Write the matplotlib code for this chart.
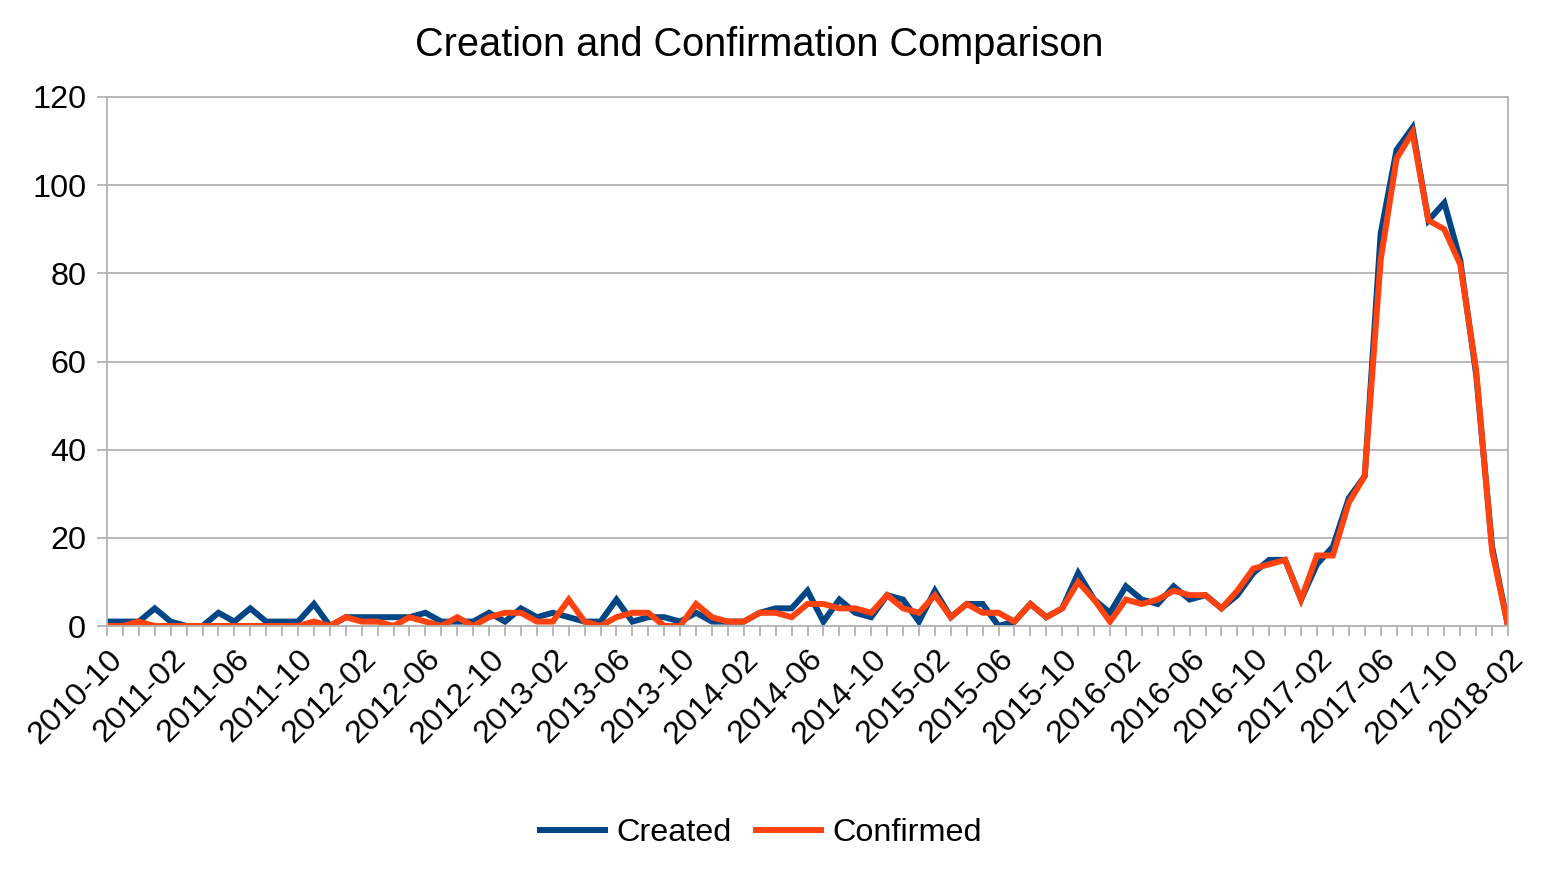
import matplotlib

matplotlib.use("Agg")
import matplotlib.pyplot as plt
import numpy as np
import pandas as pd

plt.rcParams["font.family"] = ["Liberation Sans", "DejaVu Sans"]

# monthly counts, 2010-10 .. 2018-02
months = [str(p) for p in pd.period_range("2010-10", "2018-02", freq="M")]

created = [
    1, 1, 1, 4, 1, 0, 0, 3, 1, 4, 1, 1, 1, 5, 0, 2, 2, 2, 2, 2, 3, 1,
    1, 1, 3, 1, 4, 2, 3, 2, 1, 1, 6, 1, 2, 2, 1, 3, 1, 1, 1, 3, 4,
    4, 8, 1, 6, 3, 2, 7, 6, 1, 8, 2, 5, 5, 0, 1, 5,
    2, 4, 12, 6, 3, 9, 6, 5, 9, 6, 7, 4, 7, 12, 15, 15, 6, 14, 18, 29, 34,
    89, 108, 113, 92, 96, 83, 57, 18, 0,
]
confirmed = [
    0, 0, 1, 0, 0, 0, 0, 0, 0, 0, 0, 0, 0, 1, 0, 2, 1, 1, 0, 2, 1, 0,
    2, 0, 2, 3, 3, 1, 1, 6, 1, 0, 2, 3, 3, 0, 0, 5, 2, 1, 1, 3, 3,
    2, 5, 5, 4, 4, 3, 7, 4, 3, 7, 2, 5, 3, 3, 1, 5,
    2, 4, 10, 6, 1, 6, 5, 6, 8, 7, 7, 4, 8, 13, 14, 15, 6, 16, 16, 28, 34,
    83, 106, 112, 92, 90, 82, 58, 17, 0,
]

BLUE = "#004586"
ORANGE = "#ff420e"
GRID = "#b3b3b3"
FS = 23.3

fig = plt.figure(figsize=(15.44, 8.76), dpi=100)
ax = fig.add_axes([107 / 1544, 1 - 626 / 876, (1508 - 107) / 1544, (626 - 97) / 876])

x = np.arange(len(months))
ax.plot(x, created, color=BLUE, lw=4.3, label="Created", solid_joinstyle="miter")
ax.plot(x, confirmed, color=ORANGE, lw=4.3, label="Confirmed", solid_joinstyle="miter")

ax.set_xlim(0, len(months) - 1)
ax.set_ylim(0, 120)
ax.set_yticks(np.arange(0, 121, 20))
ax.yaxis.grid(True, color=GRID, lw=1.3)
ax.set_axisbelow(True)
for s in ax.spines.values():
    s.set_color(GRID)
    s.set_linewidth(1.3)

ax.set_xticks(x)
ax.set_xticklabels([m if i % 4 == 0 else "" for i, m in enumerate(months)],
                   rotation=45, ha="right", rotation_mode="anchor")
ax.tick_params(axis="x", length=7, width=1.3, color=GRID, labelsize=FS, pad=6)
ax.tick_params(axis="y", length=7, width=1.3, color=GRID, labelsize=FS, pad=8)

fig.text(759 / 1544, 1 - 45 / 876, "Creation and Confirmation Comparison",
         fontsize=28.6, ha="center", va="center")

fig.legend(loc="center", bbox_to_anchor=(761 / 1544, 1 - 833 / 876), ncol=2, frameon=False,
           fontsize=FS, handlelength=2.0, handletextpad=0.35, columnspacing=0.75)

fig.savefig("out.png", dpi=100, facecolor="white")
